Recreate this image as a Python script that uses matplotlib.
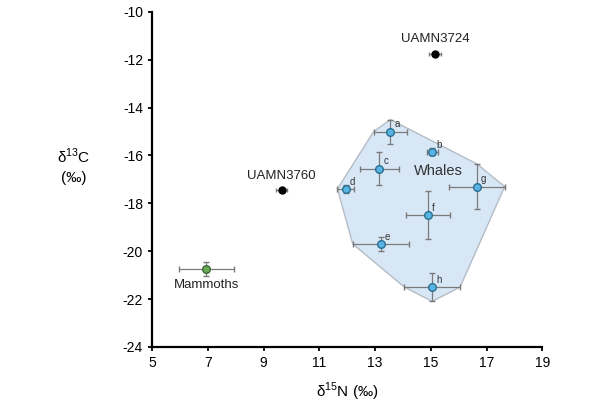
import matplotlib
matplotlib.use("Agg")
import matplotlib.pyplot as plt
import numpy as np
from matplotlib.patches import Polygon

plt.rcParams['font.family'] = ['Liberation Sans', 'DejaVu Sans']
plt.rcParams['axes.unicode_minus'] = False

# Whale data
whale_labels = ['a', 'b', 'c', 'd', 'e', 'f', 'g', 'h']
whale_n = [13.55, 15.05, 13.15, 11.95, 13.2, 14.9, 16.65, 15.05]
whale_c = [-15.0, -15.85, -16.55, -17.4, -19.7, -18.5, -17.3, -21.5]
whale_n_err = [0.6, 0.2, 0.7, 0.3, 1.0, 0.8, 1.0, 1.0]
whale_c_err = [0.5, 0.15, 0.7, 0.15, 0.3, 1.0, 0.95, 0.6]

# Other specimens
uamn_labels = ['UAMN3724', 'UAMN3760']
uamn_n = [15.15, 9.65]
uamn_c = [-11.75, -17.45]
uamn_n_err = [0.2, 0.2]

mammoth_n = [6.95]
mammoth_c = [-20.75]
mammoth_n_err = [1.0]
mammoth_c_err = [0.3]

fig = plt.figure(figsize=(5.94, 4.11), dpi=100)
ax = fig.add_axes([0.256, 0.156, 0.657, 0.815])

# convex hull of whale error bar endpoints
pts = []
for x, y, ex, ey in zip(whale_n, whale_c, whale_n_err, whale_c_err):
    pts += [(x - ex, y), (x + ex, y), (x, y - ey), (x, y + ey)]
pts = sorted(set(pts))
def cross(o, a, b):
    return (a[0]-o[0])*(b[1]-o[1]) - (a[1]-o[1])*(b[0]-o[0])
lower, upper = [], []
for p in pts:
    while len(lower) >= 2 and cross(lower[-2], lower[-1], p) <= 0:
        lower.pop()
    lower.append(p)
for p in reversed(pts):
    while len(upper) >= 2 and cross(upper[-2], upper[-1], p) <= 0:
        upper.pop()
    upper.append(p)
hull = lower[:-1] + upper[:-1]
ax.add_patch(Polygon(hull, closed=True, facecolor='#d8e7f6', edgecolor='#b4bcc6',
                     lw=1.0, zorder=1))

ax.errorbar(whale_n, whale_c, xerr=whale_n_err, yerr=whale_c_err, fmt='o',
            ms=5.5, mfc='#58b4e3', mec='#2a6f8f', mew=1.0, ecolor='#7a7a7a',
            elinewidth=0.9, capsize=2, capthick=0.9, zorder=3)
for lab, x, y in zip(whale_labels, whale_n, whale_c):
    ax.annotate(lab, (x, y), xytext=(3, 3), textcoords='offset points',
                fontsize=7, color='#333333', zorder=4)

ax.errorbar(uamn_n, uamn_c, xerr=uamn_n_err, fmt='o', ms=5, mfc='black',
            mec='black', ecolor='#7a7a7a', elinewidth=0.9, capsize=1.5, zorder=3)
for lab, x, y in zip(uamn_labels, uamn_n, uamn_c):
    ax.annotate(lab, (x, y), xytext=(0, 6), textcoords='offset points',
                ha='center', va='bottom', fontsize=9.5, color='#222222')

ax.errorbar(mammoth_n, mammoth_c, xerr=mammoth_n_err, yerr=mammoth_c_err, fmt='o',
            ms=5.5, mfc='#6aaa55', mec='#3a6a35', mew=1.0, ecolor='#7a7a7a',
            elinewidth=0.9, capsize=2, capthick=0.9, zorder=3)
ax.annotate('Mammoths', (mammoth_n[0], mammoth_c[0]), xytext=(0, -7),
            textcoords='offset points', ha='center', va='top', fontsize=9.5,
            color='#222222')

ax.text(14.4, -16.65, 'Whales', fontsize=10.5, color='#333333', va='center', zorder=4)

ax.set_xlim(5, 19)
ax.set_ylim(-24, -10)
ax.set_xticks(np.arange(5, 20, 2))
ax.set_yticks(np.arange(-24, -9, 2))
for s in ['top', 'right']:
    ax.spines[s].set_visible(False)
for s in ['left', 'bottom']:
    ax.spines[s].set_linewidth(1.6)
ax.tick_params(direction='out', length=3, width=1.3, labelsize=10, colors='black')

ax.set_xlabel(r'δ$^{\mathregular{15}}$N (‰)', fontsize=11, labelpad=8)
ax.text(-0.2, 0.54, r'δ$^{\mathregular{13}}$C' + '\n(‰)', transform=ax.transAxes,
        fontsize=11, ha='center', va='center', linespacing=1.5)

fig.savefig('out.png', dpi=100)
